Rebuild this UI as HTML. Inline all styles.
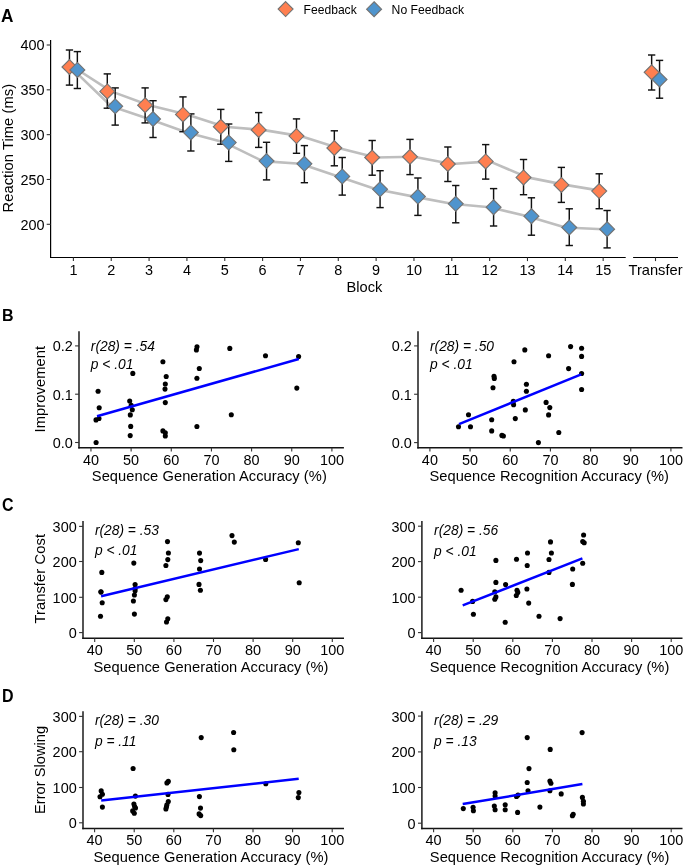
<!DOCTYPE html>
<html><head><meta charset="utf-8"><title>Figure</title>
<style>
html,body{margin:0;padding:0;background:#fff;}
svg{display:block;}
svg text{font-family:"Liberation Sans", Arial, sans-serif;fill:#000;}
</style></head>
<body>
<svg width="685" height="867" viewBox="0 0 685 867">
<rect width="685" height="867" fill="#fff"/>
<polygon points="285.6,1.65 293.05,9.1 285.6,16.55 278.15,9.1" fill="#FF7F50" stroke="#737373" stroke-width="1.15"/>
<text x="303.6" y="13.6" font-size="12.1" text-anchor="start">Feedback</text>
<polygon points="374.1,1.75 381.55,9.2 374.1,16.65 366.65,9.2" fill="#4F94CD" stroke="#737373" stroke-width="1.15"/>
<text x="391.6" y="13.6" font-size="12.2" text-anchor="start">No Feedback</text>
<text transform="translate(1.0 21.7) scale(1 1.05)" font-size="17.2" font-weight="bold">A</text>
<line x1="50.6" y1="40.1" x2="50.6" y2="258.1" stroke="#000" stroke-width="1.2"/>
<line x1="50" y1="257.5" x2="625.7" y2="257.5" stroke="#000" stroke-width="1.2"/>
<line x1="633.1" y1="257.5" x2="678" y2="257.5" stroke="#000" stroke-width="1.2"/>
<line x1="46.7" y1="224.3" x2="50.6" y2="224.3" stroke="#333" stroke-width="1.1"/>
<text transform="translate(44.5 229.7) scale(0.985 1.02)" font-size="14.67" text-anchor="end">200</text>
<line x1="46.7" y1="179.47" x2="50.6" y2="179.47" stroke="#333" stroke-width="1.1"/>
<text transform="translate(44.5 184.88) scale(0.985 1.02)" font-size="14.67" text-anchor="end">250</text>
<line x1="46.7" y1="134.65" x2="50.6" y2="134.65" stroke="#333" stroke-width="1.1"/>
<text transform="translate(44.5 140.05) scale(0.985 1.02)" font-size="14.67" text-anchor="end">300</text>
<line x1="46.7" y1="89.82" x2="50.6" y2="89.82" stroke="#333" stroke-width="1.1"/>
<text transform="translate(44.5 95.22) scale(0.985 1.02)" font-size="14.67" text-anchor="end">350</text>
<line x1="46.7" y1="45" x2="50.6" y2="45" stroke="#333" stroke-width="1.1"/>
<text transform="translate(44.5 50.4) scale(0.985 1.02)" font-size="14.67" text-anchor="end">400</text>
<line x1="73.4" y1="257.5" x2="73.4" y2="261.1" stroke="#333" stroke-width="1.1"/>
<text transform="translate(73.4 275.2) scale(0.985 1.02)" font-size="14.67" text-anchor="middle">1</text>
<line x1="111.24" y1="257.5" x2="111.24" y2="261.1" stroke="#333" stroke-width="1.1"/>
<text transform="translate(111.24 275.2) scale(0.985 1.02)" font-size="14.67" text-anchor="middle">2</text>
<line x1="149.08" y1="257.5" x2="149.08" y2="261.1" stroke="#333" stroke-width="1.1"/>
<text transform="translate(149.08 275.2) scale(0.985 1.02)" font-size="14.67" text-anchor="middle">3</text>
<line x1="186.92" y1="257.5" x2="186.92" y2="261.1" stroke="#333" stroke-width="1.1"/>
<text transform="translate(186.92 275.2) scale(0.985 1.02)" font-size="14.67" text-anchor="middle">4</text>
<line x1="224.76" y1="257.5" x2="224.76" y2="261.1" stroke="#333" stroke-width="1.1"/>
<text transform="translate(224.76 275.2) scale(0.985 1.02)" font-size="14.67" text-anchor="middle">5</text>
<line x1="262.6" y1="257.5" x2="262.6" y2="261.1" stroke="#333" stroke-width="1.1"/>
<text transform="translate(262.6 275.2) scale(0.985 1.02)" font-size="14.67" text-anchor="middle">6</text>
<line x1="300.44" y1="257.5" x2="300.44" y2="261.1" stroke="#333" stroke-width="1.1"/>
<text transform="translate(300.44 275.2) scale(0.985 1.02)" font-size="14.67" text-anchor="middle">7</text>
<line x1="338.28" y1="257.5" x2="338.28" y2="261.1" stroke="#333" stroke-width="1.1"/>
<text transform="translate(338.28 275.2) scale(0.985 1.02)" font-size="14.67" text-anchor="middle">8</text>
<line x1="376.12" y1="257.5" x2="376.12" y2="261.1" stroke="#333" stroke-width="1.1"/>
<text transform="translate(376.12 275.2) scale(0.985 1.02)" font-size="14.67" text-anchor="middle">9</text>
<line x1="413.96" y1="257.5" x2="413.96" y2="261.1" stroke="#333" stroke-width="1.1"/>
<text transform="translate(413.96 275.2) scale(0.985 1.02)" font-size="14.67" text-anchor="middle">10</text>
<line x1="451.8" y1="257.5" x2="451.8" y2="261.1" stroke="#333" stroke-width="1.1"/>
<text transform="translate(451.8 275.2) scale(0.985 1.02)" font-size="14.67" text-anchor="middle">11</text>
<line x1="489.64" y1="257.5" x2="489.64" y2="261.1" stroke="#333" stroke-width="1.1"/>
<text transform="translate(489.64 275.2) scale(0.985 1.02)" font-size="14.67" text-anchor="middle">12</text>
<line x1="527.48" y1="257.5" x2="527.48" y2="261.1" stroke="#333" stroke-width="1.1"/>
<text transform="translate(527.48 275.2) scale(0.985 1.02)" font-size="14.67" text-anchor="middle">13</text>
<line x1="565.32" y1="257.5" x2="565.32" y2="261.1" stroke="#333" stroke-width="1.1"/>
<text transform="translate(565.32 275.2) scale(0.985 1.02)" font-size="14.67" text-anchor="middle">14</text>
<line x1="603.16" y1="257.5" x2="603.16" y2="261.1" stroke="#333" stroke-width="1.1"/>
<text transform="translate(603.16 275.2) scale(0.985 1.02)" font-size="14.67" text-anchor="middle">15</text>
<line x1="655.5" y1="257.5" x2="655.5" y2="261.1" stroke="#333" stroke-width="1.1"/>
<text transform="translate(655.5 275.2) scale(1 1.05)" font-size="14.67" text-anchor="middle">Transfer</text>
<text x="364.4" y="292" font-size="14.67" text-anchor="middle">Block</text>
<text x="12.9" y="148.2" font-size="14.67" text-anchor="middle" textLength="128.5" lengthAdjust="spacing" transform="rotate(-90 12.9 148.2)">Reaction Time (ms)</text>
<polyline fill="none" stroke="#BEBEBE" stroke-width="2.6" stroke-linejoin="round" points="73.4,67 111.24,91.4 149.08,105.2 186.92,114.4 224.76,126.7 262.6,129.9 300.44,136.1 338.28,148 376.12,157.5 413.96,156.8 451.8,164 489.64,161.4 527.48,177.4 565.32,184.9 603.16,191.1"/>
<polyline fill="none" stroke="#BEBEBE" stroke-width="2.6" stroke-linejoin="round" points="73.4,69.9 111.24,106.3 149.08,119 186.92,132.5 224.76,142.6 262.6,161.1 300.44,163.8 338.28,176.4 376.12,189.3 413.96,196.6 451.8,203.8 489.64,207.2 527.48,216.2 565.32,227.5 603.16,229.2"/>
<line x1="69.45" y1="50" x2="69.45" y2="85.1" stroke="#111" stroke-width="1.45"/>
<line x1="65.8" y1="50" x2="73.1" y2="50" stroke="#111" stroke-width="1.45"/>
<line x1="65.8" y1="85.1" x2="73.1" y2="85.1" stroke="#111" stroke-width="1.45"/>
<line x1="107.29" y1="73.9" x2="107.29" y2="108.2" stroke="#111" stroke-width="1.45"/>
<line x1="103.64" y1="73.9" x2="110.94" y2="73.9" stroke="#111" stroke-width="1.45"/>
<line x1="103.64" y1="108.2" x2="110.94" y2="108.2" stroke="#111" stroke-width="1.45"/>
<line x1="145.13" y1="87.9" x2="145.13" y2="122.9" stroke="#111" stroke-width="1.45"/>
<line x1="141.48" y1="87.9" x2="148.78" y2="87.9" stroke="#111" stroke-width="1.45"/>
<line x1="141.48" y1="122.9" x2="148.78" y2="122.9" stroke="#111" stroke-width="1.45"/>
<line x1="182.97" y1="96.9" x2="182.97" y2="131.7" stroke="#111" stroke-width="1.45"/>
<line x1="179.32" y1="96.9" x2="186.62" y2="96.9" stroke="#111" stroke-width="1.45"/>
<line x1="179.32" y1="131.7" x2="186.62" y2="131.7" stroke="#111" stroke-width="1.45"/>
<line x1="220.81" y1="109.4" x2="220.81" y2="144.2" stroke="#111" stroke-width="1.45"/>
<line x1="217.16" y1="109.4" x2="224.46" y2="109.4" stroke="#111" stroke-width="1.45"/>
<line x1="217.16" y1="144.2" x2="224.46" y2="144.2" stroke="#111" stroke-width="1.45"/>
<line x1="258.65" y1="112.6" x2="258.65" y2="147.4" stroke="#111" stroke-width="1.45"/>
<line x1="255" y1="112.6" x2="262.3" y2="112.6" stroke="#111" stroke-width="1.45"/>
<line x1="255" y1="147.4" x2="262.3" y2="147.4" stroke="#111" stroke-width="1.45"/>
<line x1="296.49" y1="118.9" x2="296.49" y2="153.3" stroke="#111" stroke-width="1.45"/>
<line x1="292.84" y1="118.9" x2="300.14" y2="118.9" stroke="#111" stroke-width="1.45"/>
<line x1="292.84" y1="153.3" x2="300.14" y2="153.3" stroke="#111" stroke-width="1.45"/>
<line x1="334.33" y1="130.8" x2="334.33" y2="165.8" stroke="#111" stroke-width="1.45"/>
<line x1="330.68" y1="130.8" x2="337.98" y2="130.8" stroke="#111" stroke-width="1.45"/>
<line x1="330.68" y1="165.8" x2="337.98" y2="165.8" stroke="#111" stroke-width="1.45"/>
<line x1="372.17" y1="140.5" x2="372.17" y2="175.2" stroke="#111" stroke-width="1.45"/>
<line x1="368.52" y1="140.5" x2="375.82" y2="140.5" stroke="#111" stroke-width="1.45"/>
<line x1="368.52" y1="175.2" x2="375.82" y2="175.2" stroke="#111" stroke-width="1.45"/>
<line x1="410.01" y1="139.4" x2="410.01" y2="174.6" stroke="#111" stroke-width="1.45"/>
<line x1="406.36" y1="139.4" x2="413.66" y2="139.4" stroke="#111" stroke-width="1.45"/>
<line x1="406.36" y1="174.6" x2="413.66" y2="174.6" stroke="#111" stroke-width="1.45"/>
<line x1="447.85" y1="147" x2="447.85" y2="181.5" stroke="#111" stroke-width="1.45"/>
<line x1="444.2" y1="147" x2="451.5" y2="147" stroke="#111" stroke-width="1.45"/>
<line x1="444.2" y1="181.5" x2="451.5" y2="181.5" stroke="#111" stroke-width="1.45"/>
<line x1="485.69" y1="144.6" x2="485.69" y2="179.1" stroke="#111" stroke-width="1.45"/>
<line x1="482.04" y1="144.6" x2="489.34" y2="144.6" stroke="#111" stroke-width="1.45"/>
<line x1="482.04" y1="179.1" x2="489.34" y2="179.1" stroke="#111" stroke-width="1.45"/>
<line x1="523.53" y1="159.5" x2="523.53" y2="194.7" stroke="#111" stroke-width="1.45"/>
<line x1="519.88" y1="159.5" x2="527.18" y2="159.5" stroke="#111" stroke-width="1.45"/>
<line x1="519.88" y1="194.7" x2="527.18" y2="194.7" stroke="#111" stroke-width="1.45"/>
<line x1="561.37" y1="167.4" x2="561.37" y2="202.4" stroke="#111" stroke-width="1.45"/>
<line x1="557.72" y1="167.4" x2="565.02" y2="167.4" stroke="#111" stroke-width="1.45"/>
<line x1="557.72" y1="202.4" x2="565.02" y2="202.4" stroke="#111" stroke-width="1.45"/>
<line x1="599.21" y1="173.8" x2="599.21" y2="208.7" stroke="#111" stroke-width="1.45"/>
<line x1="595.56" y1="173.8" x2="602.86" y2="173.8" stroke="#111" stroke-width="1.45"/>
<line x1="595.56" y1="208.7" x2="602.86" y2="208.7" stroke="#111" stroke-width="1.45"/>
<line x1="77.35" y1="51.6" x2="77.35" y2="88.5" stroke="#111" stroke-width="1.45"/>
<line x1="73.7" y1="51.6" x2="81" y2="51.6" stroke="#111" stroke-width="1.45"/>
<line x1="73.7" y1="88.5" x2="81" y2="88.5" stroke="#111" stroke-width="1.45"/>
<line x1="115.19" y1="87.9" x2="115.19" y2="125.1" stroke="#111" stroke-width="1.45"/>
<line x1="111.54" y1="87.9" x2="118.84" y2="87.9" stroke="#111" stroke-width="1.45"/>
<line x1="111.54" y1="125.1" x2="118.84" y2="125.1" stroke="#111" stroke-width="1.45"/>
<line x1="153.03" y1="100.7" x2="153.03" y2="137.5" stroke="#111" stroke-width="1.45"/>
<line x1="149.38" y1="100.7" x2="156.68" y2="100.7" stroke="#111" stroke-width="1.45"/>
<line x1="149.38" y1="137.5" x2="156.68" y2="137.5" stroke="#111" stroke-width="1.45"/>
<line x1="190.87" y1="113.9" x2="190.87" y2="151" stroke="#111" stroke-width="1.45"/>
<line x1="187.22" y1="113.9" x2="194.52" y2="113.9" stroke="#111" stroke-width="1.45"/>
<line x1="187.22" y1="151" x2="194.52" y2="151" stroke="#111" stroke-width="1.45"/>
<line x1="228.71" y1="124" x2="228.71" y2="161.4" stroke="#111" stroke-width="1.45"/>
<line x1="225.06" y1="124" x2="232.36" y2="124" stroke="#111" stroke-width="1.45"/>
<line x1="225.06" y1="161.4" x2="232.36" y2="161.4" stroke="#111" stroke-width="1.45"/>
<line x1="266.55" y1="142.3" x2="266.55" y2="179.9" stroke="#111" stroke-width="1.45"/>
<line x1="262.9" y1="142.3" x2="270.2" y2="142.3" stroke="#111" stroke-width="1.45"/>
<line x1="262.9" y1="179.9" x2="270.2" y2="179.9" stroke="#111" stroke-width="1.45"/>
<line x1="304.39" y1="145.6" x2="304.39" y2="182.7" stroke="#111" stroke-width="1.45"/>
<line x1="300.74" y1="145.6" x2="308.04" y2="145.6" stroke="#111" stroke-width="1.45"/>
<line x1="300.74" y1="182.7" x2="308.04" y2="182.7" stroke="#111" stroke-width="1.45"/>
<line x1="342.23" y1="157.5" x2="342.23" y2="195.1" stroke="#111" stroke-width="1.45"/>
<line x1="338.58" y1="157.5" x2="345.88" y2="157.5" stroke="#111" stroke-width="1.45"/>
<line x1="338.58" y1="195.1" x2="345.88" y2="195.1" stroke="#111" stroke-width="1.45"/>
<line x1="380.07" y1="170.7" x2="380.07" y2="207.6" stroke="#111" stroke-width="1.45"/>
<line x1="376.42" y1="170.7" x2="383.72" y2="170.7" stroke="#111" stroke-width="1.45"/>
<line x1="376.42" y1="207.6" x2="383.72" y2="207.6" stroke="#111" stroke-width="1.45"/>
<line x1="417.91" y1="178" x2="417.91" y2="215.4" stroke="#111" stroke-width="1.45"/>
<line x1="414.26" y1="178" x2="421.56" y2="178" stroke="#111" stroke-width="1.45"/>
<line x1="414.26" y1="215.4" x2="421.56" y2="215.4" stroke="#111" stroke-width="1.45"/>
<line x1="455.75" y1="185.5" x2="455.75" y2="222.8" stroke="#111" stroke-width="1.45"/>
<line x1="452.1" y1="185.5" x2="459.4" y2="185.5" stroke="#111" stroke-width="1.45"/>
<line x1="452.1" y1="222.8" x2="459.4" y2="222.8" stroke="#111" stroke-width="1.45"/>
<line x1="493.59" y1="188.6" x2="493.59" y2="226" stroke="#111" stroke-width="1.45"/>
<line x1="489.94" y1="188.6" x2="497.24" y2="188.6" stroke="#111" stroke-width="1.45"/>
<line x1="489.94" y1="226" x2="497.24" y2="226" stroke="#111" stroke-width="1.45"/>
<line x1="531.43" y1="197.8" x2="531.43" y2="235.2" stroke="#111" stroke-width="1.45"/>
<line x1="527.78" y1="197.8" x2="535.08" y2="197.8" stroke="#111" stroke-width="1.45"/>
<line x1="527.78" y1="235.2" x2="535.08" y2="235.2" stroke="#111" stroke-width="1.45"/>
<line x1="569.27" y1="208.8" x2="569.27" y2="245.5" stroke="#111" stroke-width="1.45"/>
<line x1="565.62" y1="208.8" x2="572.92" y2="208.8" stroke="#111" stroke-width="1.45"/>
<line x1="565.62" y1="245.5" x2="572.92" y2="245.5" stroke="#111" stroke-width="1.45"/>
<line x1="607.11" y1="210.5" x2="607.11" y2="247.9" stroke="#111" stroke-width="1.45"/>
<line x1="603.46" y1="210.5" x2="610.76" y2="210.5" stroke="#111" stroke-width="1.45"/>
<line x1="603.46" y1="247.9" x2="610.76" y2="247.9" stroke="#111" stroke-width="1.45"/>
<line x1="651.65" y1="55" x2="651.65" y2="90" stroke="#111" stroke-width="1.45"/>
<line x1="648" y1="55" x2="655.3" y2="55" stroke="#111" stroke-width="1.45"/>
<line x1="648" y1="90" x2="655.3" y2="90" stroke="#111" stroke-width="1.45"/>
<line x1="659.55" y1="60.4" x2="659.55" y2="98.2" stroke="#111" stroke-width="1.45"/>
<line x1="655.9" y1="60.4" x2="663.2" y2="60.4" stroke="#111" stroke-width="1.45"/>
<line x1="655.9" y1="98.2" x2="663.2" y2="98.2" stroke="#111" stroke-width="1.45"/>
<polygon points="69.45,59.55 76.9,67 69.45,74.45 62,67" fill="#FF7F50" stroke="#737373" stroke-width="1.15"/>
<polygon points="107.29,83.95 114.74,91.4 107.29,98.85 99.84,91.4" fill="#FF7F50" stroke="#737373" stroke-width="1.15"/>
<polygon points="145.13,97.75 152.58,105.2 145.13,112.65 137.68,105.2" fill="#FF7F50" stroke="#737373" stroke-width="1.15"/>
<polygon points="182.97,106.95 190.42,114.4 182.97,121.85 175.52,114.4" fill="#FF7F50" stroke="#737373" stroke-width="1.15"/>
<polygon points="220.81,119.25 228.26,126.7 220.81,134.15 213.36,126.7" fill="#FF7F50" stroke="#737373" stroke-width="1.15"/>
<polygon points="258.65,122.45 266.1,129.9 258.65,137.35 251.2,129.9" fill="#FF7F50" stroke="#737373" stroke-width="1.15"/>
<polygon points="296.49,128.65 303.94,136.1 296.49,143.55 289.04,136.1" fill="#FF7F50" stroke="#737373" stroke-width="1.15"/>
<polygon points="334.33,140.55 341.78,148 334.33,155.45 326.88,148" fill="#FF7F50" stroke="#737373" stroke-width="1.15"/>
<polygon points="372.17,150.05 379.62,157.5 372.17,164.95 364.72,157.5" fill="#FF7F50" stroke="#737373" stroke-width="1.15"/>
<polygon points="410.01,149.35 417.46,156.8 410.01,164.25 402.56,156.8" fill="#FF7F50" stroke="#737373" stroke-width="1.15"/>
<polygon points="447.85,156.55 455.3,164 447.85,171.45 440.4,164" fill="#FF7F50" stroke="#737373" stroke-width="1.15"/>
<polygon points="485.69,153.95 493.14,161.4 485.69,168.85 478.24,161.4" fill="#FF7F50" stroke="#737373" stroke-width="1.15"/>
<polygon points="523.53,169.95 530.98,177.4 523.53,184.85 516.08,177.4" fill="#FF7F50" stroke="#737373" stroke-width="1.15"/>
<polygon points="561.37,177.45 568.82,184.9 561.37,192.35 553.92,184.9" fill="#FF7F50" stroke="#737373" stroke-width="1.15"/>
<polygon points="599.21,183.65 606.66,191.1 599.21,198.55 591.76,191.1" fill="#FF7F50" stroke="#737373" stroke-width="1.15"/>
<polygon points="77.35,62.45 84.8,69.9 77.35,77.35 69.9,69.9" fill="#4F94CD" stroke="#737373" stroke-width="1.15"/>
<polygon points="115.19,98.85 122.64,106.3 115.19,113.75 107.74,106.3" fill="#4F94CD" stroke="#737373" stroke-width="1.15"/>
<polygon points="153.03,111.55 160.48,119 153.03,126.45 145.58,119" fill="#4F94CD" stroke="#737373" stroke-width="1.15"/>
<polygon points="190.87,125.05 198.32,132.5 190.87,139.95 183.42,132.5" fill="#4F94CD" stroke="#737373" stroke-width="1.15"/>
<polygon points="228.71,135.15 236.16,142.6 228.71,150.05 221.26,142.6" fill="#4F94CD" stroke="#737373" stroke-width="1.15"/>
<polygon points="266.55,153.65 274,161.1 266.55,168.55 259.1,161.1" fill="#4F94CD" stroke="#737373" stroke-width="1.15"/>
<polygon points="304.39,156.35 311.84,163.8 304.39,171.25 296.94,163.8" fill="#4F94CD" stroke="#737373" stroke-width="1.15"/>
<polygon points="342.23,168.95 349.68,176.4 342.23,183.85 334.78,176.4" fill="#4F94CD" stroke="#737373" stroke-width="1.15"/>
<polygon points="380.07,181.85 387.52,189.3 380.07,196.75 372.62,189.3" fill="#4F94CD" stroke="#737373" stroke-width="1.15"/>
<polygon points="417.91,189.15 425.36,196.6 417.91,204.05 410.46,196.6" fill="#4F94CD" stroke="#737373" stroke-width="1.15"/>
<polygon points="455.75,196.35 463.2,203.8 455.75,211.25 448.3,203.8" fill="#4F94CD" stroke="#737373" stroke-width="1.15"/>
<polygon points="493.59,199.75 501.04,207.2 493.59,214.65 486.14,207.2" fill="#4F94CD" stroke="#737373" stroke-width="1.15"/>
<polygon points="531.43,208.75 538.88,216.2 531.43,223.65 523.98,216.2" fill="#4F94CD" stroke="#737373" stroke-width="1.15"/>
<polygon points="569.27,220.05 576.72,227.5 569.27,234.95 561.82,227.5" fill="#4F94CD" stroke="#737373" stroke-width="1.15"/>
<polygon points="607.11,221.75 614.56,229.2 607.11,236.65 599.66,229.2" fill="#4F94CD" stroke="#737373" stroke-width="1.15"/>
<polygon points="651.65,64.85 659.1,72.3 651.65,79.75 644.2,72.3" fill="#FF7F50" stroke="#737373" stroke-width="1.15"/>
<polygon points="659.55,72.05 667,79.5 659.55,86.95 652.1,79.5" fill="#4F94CD" stroke="#737373" stroke-width="1.15"/>
<text transform="translate(2.0 320.6) scale(1 1.0)" font-size="16" font-weight="bold">B</text>
<line x1="79" y1="331.3" x2="79" y2="448.53" stroke="#141414" stroke-width="1.45"/>
<line x1="78.28" y1="447.8" x2="343.9" y2="447.8" stroke="#141414" stroke-width="1.45"/>
<line x1="75.1" y1="442.5" x2="79" y2="442.5" stroke="#333" stroke-width="1.1"/>
<text transform="translate(72.7 447.9) scale(0.985 1.02)" font-size="14.67" text-anchor="end">0.0</text>
<line x1="75.1" y1="394.2" x2="79" y2="394.2" stroke="#333" stroke-width="1.1"/>
<text transform="translate(72.7 399.6) scale(0.985 1.02)" font-size="14.67" text-anchor="end">0.1</text>
<line x1="75.1" y1="345.9" x2="79" y2="345.9" stroke="#333" stroke-width="1.1"/>
<text transform="translate(72.7 351.3) scale(0.985 1.02)" font-size="14.67" text-anchor="end">0.2</text>
<line x1="90.95" y1="447.8" x2="90.95" y2="451.5" stroke="#333" stroke-width="1.1"/>
<text transform="translate(90.95 464.6) scale(0.985 1.02)" font-size="14.67" text-anchor="middle">40</text>
<line x1="131.11" y1="447.8" x2="131.11" y2="451.5" stroke="#333" stroke-width="1.1"/>
<text transform="translate(131.11 464.6) scale(0.985 1.02)" font-size="14.67" text-anchor="middle">50</text>
<line x1="171.27" y1="447.8" x2="171.27" y2="451.5" stroke="#333" stroke-width="1.1"/>
<text transform="translate(171.27 464.6) scale(0.985 1.02)" font-size="14.67" text-anchor="middle">60</text>
<line x1="211.43" y1="447.8" x2="211.43" y2="451.5" stroke="#333" stroke-width="1.1"/>
<text transform="translate(211.43 464.6) scale(0.985 1.02)" font-size="14.67" text-anchor="middle">70</text>
<line x1="251.59" y1="447.8" x2="251.59" y2="451.5" stroke="#333" stroke-width="1.1"/>
<text transform="translate(251.59 464.6) scale(0.985 1.02)" font-size="14.67" text-anchor="middle">80</text>
<line x1="291.75" y1="447.8" x2="291.75" y2="451.5" stroke="#333" stroke-width="1.1"/>
<text transform="translate(291.75 464.6) scale(0.985 1.02)" font-size="14.67" text-anchor="middle">90</text>
<line x1="331.91" y1="447.8" x2="331.91" y2="451.5" stroke="#333" stroke-width="1.1"/>
<text transform="translate(331.91 464.6) scale(0.985 1.02)" font-size="14.67" text-anchor="middle">100</text>
<text x="91.8" y="481.3" font-size="14.67" text-anchor="start" textLength="235" lengthAdjust="spacing">Sequence Generation Accuracy (%)</text>
<text x="45.2" y="389.1" font-size="14.67" text-anchor="middle" textLength="86.6" lengthAdjust="spacing" transform="rotate(-90 45.2 389.1)">Improvement</text>
<text x="90.8" y="350.8" font-size="13.8" text-anchor="start" font-style="italic">r(28) = .54</text>
<text x="90.8" y="368.9" font-size="13.8" text-anchor="start" font-style="italic">p &lt; .01</text>
<circle cx="96.1" cy="442.5" r="2.55"/>
<circle cx="96" cy="419.9" r="2.55"/>
<circle cx="99" cy="418.5" r="2.55"/>
<circle cx="99.2" cy="407.8" r="2.55"/>
<circle cx="98.1" cy="391.2" r="2.55"/>
<circle cx="129.7" cy="401" r="2.55"/>
<circle cx="131.2" cy="405.3" r="2.55"/>
<circle cx="132.3" cy="409.8" r="2.55"/>
<circle cx="130.3" cy="414.9" r="2.55"/>
<circle cx="130.7" cy="426.4" r="2.55"/>
<circle cx="130.2" cy="435.6" r="2.55"/>
<circle cx="132.8" cy="373.4" r="2.55"/>
<circle cx="162.9" cy="361.7" r="2.55"/>
<circle cx="166.2" cy="376.5" r="2.55"/>
<circle cx="165.3" cy="384" r="2.55"/>
<circle cx="165" cy="389.1" r="2.55"/>
<circle cx="165.3" cy="402.6" r="2.55"/>
<circle cx="162.9" cy="430.9" r="2.55"/>
<circle cx="165.3" cy="432.7" r="2.55"/>
<circle cx="165.3" cy="436" r="2.55"/>
<circle cx="197" cy="346.7" r="2.55"/>
<circle cx="196.4" cy="349.9" r="2.55"/>
<circle cx="199.3" cy="368.5" r="2.55"/>
<circle cx="196.9" cy="378.2" r="2.55"/>
<circle cx="196.9" cy="426.5" r="2.55"/>
<circle cx="229.8" cy="348.4" r="2.55"/>
<circle cx="231.3" cy="414.8" r="2.55"/>
<circle cx="265.5" cy="355.7" r="2.55"/>
<circle cx="298.6" cy="356.5" r="2.55"/>
<circle cx="296.8" cy="388.1" r="2.55"/>
<line x1="97" y1="416.3" x2="298.8" y2="359" stroke="#0000FF" stroke-width="2.5" stroke-linecap="butt"/>
<line x1="418" y1="331.2" x2="418" y2="448.43" stroke="#141414" stroke-width="1.45"/>
<line x1="417.27" y1="447.7" x2="682.5" y2="447.7" stroke="#141414" stroke-width="1.45"/>
<line x1="414.1" y1="442.6" x2="418" y2="442.6" stroke="#333" stroke-width="1.1"/>
<text transform="translate(411.7 448) scale(0.985 1.02)" font-size="14.67" text-anchor="end">0.0</text>
<line x1="414.1" y1="394.25" x2="418" y2="394.25" stroke="#333" stroke-width="1.1"/>
<text transform="translate(411.7 399.65) scale(0.985 1.02)" font-size="14.67" text-anchor="end">0.1</text>
<line x1="414.1" y1="345.9" x2="418" y2="345.9" stroke="#333" stroke-width="1.1"/>
<text transform="translate(411.7 351.3) scale(0.985 1.02)" font-size="14.67" text-anchor="end">0.2</text>
<line x1="429.9" y1="447.7" x2="429.9" y2="451.4" stroke="#333" stroke-width="1.1"/>
<text transform="translate(429.9 464.5) scale(0.985 1.02)" font-size="14.67" text-anchor="middle">40</text>
<line x1="470.07" y1="447.7" x2="470.07" y2="451.4" stroke="#333" stroke-width="1.1"/>
<text transform="translate(470.07 464.5) scale(0.985 1.02)" font-size="14.67" text-anchor="middle">50</text>
<line x1="510.24" y1="447.7" x2="510.24" y2="451.4" stroke="#333" stroke-width="1.1"/>
<text transform="translate(510.24 464.5) scale(0.985 1.02)" font-size="14.67" text-anchor="middle">60</text>
<line x1="550.41" y1="447.7" x2="550.41" y2="451.4" stroke="#333" stroke-width="1.1"/>
<text transform="translate(550.41 464.5) scale(0.985 1.02)" font-size="14.67" text-anchor="middle">70</text>
<line x1="590.58" y1="447.7" x2="590.58" y2="451.4" stroke="#333" stroke-width="1.1"/>
<text transform="translate(590.58 464.5) scale(0.985 1.02)" font-size="14.67" text-anchor="middle">80</text>
<line x1="630.75" y1="447.7" x2="630.75" y2="451.4" stroke="#333" stroke-width="1.1"/>
<text transform="translate(630.75 464.5) scale(0.985 1.02)" font-size="14.67" text-anchor="middle">90</text>
<line x1="670.92" y1="447.7" x2="670.92" y2="451.4" stroke="#333" stroke-width="1.1"/>
<text transform="translate(670.92 464.5) scale(0.985 1.02)" font-size="14.67" text-anchor="middle">100</text>
<text x="429.4" y="481.2" font-size="14.67" text-anchor="start" textLength="239.5" lengthAdjust="spacing">Sequence Recognition Accuracy (%)</text>
<text x="430" y="351.2" font-size="13.8" text-anchor="start" font-style="italic">r(28) = .50</text>
<text x="430" y="369.2" font-size="13.8" text-anchor="start" font-style="italic">p &lt; .01</text>
<circle cx="458.5" cy="426.7" r="2.55"/>
<circle cx="468.5" cy="414.7" r="2.55"/>
<circle cx="470.5" cy="426.7" r="2.55"/>
<circle cx="491.7" cy="419.7" r="2.55"/>
<circle cx="491.7" cy="430.9" r="2.55"/>
<circle cx="493" cy="387.8" r="2.55"/>
<circle cx="494" cy="376.2" r="2.55"/>
<circle cx="494.3" cy="378.4" r="2.55"/>
<circle cx="501.9" cy="435.4" r="2.55"/>
<circle cx="503.4" cy="436" r="2.55"/>
<circle cx="514" cy="361.7" r="2.55"/>
<circle cx="513.3" cy="401.4" r="2.55"/>
<circle cx="513.6" cy="404.8" r="2.55"/>
<circle cx="515.3" cy="418.6" r="2.55"/>
<circle cx="524.8" cy="349.9" r="2.55"/>
<circle cx="526.4" cy="384.2" r="2.55"/>
<circle cx="526.4" cy="391.2" r="2.55"/>
<circle cx="525.3" cy="409.9" r="2.55"/>
<circle cx="538.4" cy="442.6" r="2.55"/>
<circle cx="548.6" cy="355.7" r="2.55"/>
<circle cx="546.1" cy="402.4" r="2.55"/>
<circle cx="549.8" cy="407.6" r="2.55"/>
<circle cx="548.6" cy="414.9" r="2.55"/>
<circle cx="558.8" cy="432.5" r="2.55"/>
<circle cx="570.6" cy="346.6" r="2.55"/>
<circle cx="568.6" cy="368.6" r="2.55"/>
<circle cx="581.6" cy="348.3" r="2.55"/>
<circle cx="581.6" cy="356.4" r="2.55"/>
<circle cx="581.6" cy="373.5" r="2.55"/>
<circle cx="581.6" cy="389.5" r="2.55"/>
<line x1="459" y1="424.2" x2="581.2" y2="374.3" stroke="#0000FF" stroke-width="2.5" stroke-linecap="butt"/>
<text transform="translate(2.0 510.6) scale(1 1.11)" font-size="16" font-weight="bold">C</text>
<line x1="83" y1="521.1" x2="83" y2="639.02" stroke="#141414" stroke-width="1.45"/>
<line x1="82.28" y1="638.3" x2="344" y2="638.3" stroke="#141414" stroke-width="1.45"/>
<line x1="79.1" y1="632.6" x2="83" y2="632.6" stroke="#333" stroke-width="1.1"/>
<text transform="translate(76.7 638) scale(0.985 1.02)" font-size="14.67" text-anchor="end">0</text>
<line x1="79.1" y1="597.3" x2="83" y2="597.3" stroke="#333" stroke-width="1.1"/>
<text transform="translate(76.7 602.7) scale(0.985 1.02)" font-size="14.67" text-anchor="end">100</text>
<line x1="79.1" y1="561.5" x2="83" y2="561.5" stroke="#333" stroke-width="1.1"/>
<text transform="translate(76.7 566.9) scale(0.985 1.02)" font-size="14.67" text-anchor="end">200</text>
<line x1="79.1" y1="526.4" x2="83" y2="526.4" stroke="#333" stroke-width="1.1"/>
<text transform="translate(76.7 531.8) scale(0.985 1.02)" font-size="14.67" text-anchor="end">300</text>
<line x1="94.7" y1="638.3" x2="94.7" y2="642" stroke="#333" stroke-width="1.1"/>
<text transform="translate(94.7 655.1) scale(0.985 1.02)" font-size="14.67" text-anchor="middle">40</text>
<line x1="134.3" y1="638.3" x2="134.3" y2="642" stroke="#333" stroke-width="1.1"/>
<text transform="translate(134.3 655.1) scale(0.985 1.02)" font-size="14.67" text-anchor="middle">50</text>
<line x1="173.9" y1="638.3" x2="173.9" y2="642" stroke="#333" stroke-width="1.1"/>
<text transform="translate(173.9 655.1) scale(0.985 1.02)" font-size="14.67" text-anchor="middle">60</text>
<line x1="213.5" y1="638.3" x2="213.5" y2="642" stroke="#333" stroke-width="1.1"/>
<text transform="translate(213.5 655.1) scale(0.985 1.02)" font-size="14.67" text-anchor="middle">70</text>
<line x1="253.1" y1="638.3" x2="253.1" y2="642" stroke="#333" stroke-width="1.1"/>
<text transform="translate(253.1 655.1) scale(0.985 1.02)" font-size="14.67" text-anchor="middle">80</text>
<line x1="292.7" y1="638.3" x2="292.7" y2="642" stroke="#333" stroke-width="1.1"/>
<text transform="translate(292.7 655.1) scale(0.985 1.02)" font-size="14.67" text-anchor="middle">90</text>
<line x1="332.3" y1="638.3" x2="332.3" y2="642" stroke="#333" stroke-width="1.1"/>
<text transform="translate(332.3 655.1) scale(0.985 1.02)" font-size="14.67" text-anchor="middle">100</text>
<text x="93.5" y="671.8" font-size="14.67" text-anchor="start" textLength="235" lengthAdjust="spacing">Sequence Generation Accuracy (%)</text>
<text x="45.2" y="578.8" font-size="14.67" text-anchor="middle" textLength="89.6" lengthAdjust="spacing" transform="rotate(-90 45.2 578.8)">Transfer Cost</text>
<text x="94.9" y="535.1" font-size="13.8" text-anchor="start" font-style="italic">r(28) = .53</text>
<text x="94.9" y="555.3" font-size="13.8" text-anchor="start" font-style="italic">p &lt; .01</text>
<circle cx="101.8" cy="572.4" r="2.55"/>
<circle cx="100.9" cy="591.8" r="2.55"/>
<circle cx="101" cy="592.1" r="2.55"/>
<circle cx="102.2" cy="602.7" r="2.55"/>
<circle cx="100.5" cy="616.3" r="2.55"/>
<circle cx="133.8" cy="563.1" r="2.55"/>
<circle cx="135.1" cy="584.5" r="2.55"/>
<circle cx="135.1" cy="588.5" r="2.55"/>
<circle cx="135.1" cy="590.7" r="2.55"/>
<circle cx="134.4" cy="595" r="2.55"/>
<circle cx="133.4" cy="601" r="2.55"/>
<circle cx="134.4" cy="614.1" r="2.55"/>
<circle cx="167.5" cy="541.6" r="2.55"/>
<circle cx="168.4" cy="553" r="2.55"/>
<circle cx="167.8" cy="559.6" r="2.55"/>
<circle cx="165.9" cy="565.5" r="2.55"/>
<circle cx="167.3" cy="596.7" r="2.55"/>
<circle cx="165.9" cy="599.6" r="2.55"/>
<circle cx="167.8" cy="618.7" r="2.55"/>
<circle cx="166.5" cy="622" r="2.55"/>
<circle cx="199.5" cy="553.1" r="2.55"/>
<circle cx="200.7" cy="560.6" r="2.55"/>
<circle cx="199.5" cy="569" r="2.55"/>
<circle cx="199" cy="584.4" r="2.55"/>
<circle cx="200.4" cy="590.2" r="2.55"/>
<circle cx="232" cy="535.6" r="2.55"/>
<circle cx="234.3" cy="542.1" r="2.55"/>
<circle cx="265.6" cy="559.4" r="2.55"/>
<circle cx="298.3" cy="542.8" r="2.55"/>
<circle cx="299.2" cy="582.7" r="2.55"/>
<line x1="101.1" y1="596.3" x2="298.8" y2="549.1" stroke="#0000FF" stroke-width="2.5" stroke-linecap="butt"/>
<line x1="421.9" y1="521.1" x2="421.9" y2="639.02" stroke="#141414" stroke-width="1.45"/>
<line x1="421.17" y1="638.3" x2="682.5" y2="638.3" stroke="#141414" stroke-width="1.45"/>
<line x1="418" y1="632.6" x2="421.9" y2="632.6" stroke="#333" stroke-width="1.1"/>
<text transform="translate(415.6 638) scale(0.985 1.02)" font-size="14.67" text-anchor="end">0</text>
<line x1="418" y1="597.2" x2="421.9" y2="597.2" stroke="#333" stroke-width="1.1"/>
<text transform="translate(415.6 602.6) scale(0.985 1.02)" font-size="14.67" text-anchor="end">100</text>
<line x1="418" y1="561.6" x2="421.9" y2="561.6" stroke="#333" stroke-width="1.1"/>
<text transform="translate(415.6 567) scale(0.985 1.02)" font-size="14.67" text-anchor="end">200</text>
<line x1="418" y1="526.2" x2="421.9" y2="526.2" stroke="#333" stroke-width="1.1"/>
<text transform="translate(415.6 531.6) scale(0.985 1.02)" font-size="14.67" text-anchor="end">300</text>
<line x1="433.6" y1="638.3" x2="433.6" y2="642" stroke="#333" stroke-width="1.1"/>
<text transform="translate(433.6 655.1) scale(0.985 1.02)" font-size="14.67" text-anchor="middle">40</text>
<line x1="473.2" y1="638.3" x2="473.2" y2="642" stroke="#333" stroke-width="1.1"/>
<text transform="translate(473.2 655.1) scale(0.985 1.02)" font-size="14.67" text-anchor="middle">50</text>
<line x1="512.8" y1="638.3" x2="512.8" y2="642" stroke="#333" stroke-width="1.1"/>
<text transform="translate(512.8 655.1) scale(0.985 1.02)" font-size="14.67" text-anchor="middle">60</text>
<line x1="552.4" y1="638.3" x2="552.4" y2="642" stroke="#333" stroke-width="1.1"/>
<text transform="translate(552.4 655.1) scale(0.985 1.02)" font-size="14.67" text-anchor="middle">70</text>
<line x1="592" y1="638.3" x2="592" y2="642" stroke="#333" stroke-width="1.1"/>
<text transform="translate(592 655.1) scale(0.985 1.02)" font-size="14.67" text-anchor="middle">80</text>
<line x1="631.6" y1="638.3" x2="631.6" y2="642" stroke="#333" stroke-width="1.1"/>
<text transform="translate(631.6 655.1) scale(0.985 1.02)" font-size="14.67" text-anchor="middle">90</text>
<line x1="671.2" y1="638.3" x2="671.2" y2="642" stroke="#333" stroke-width="1.1"/>
<text transform="translate(671.2 655.1) scale(0.985 1.02)" font-size="14.67" text-anchor="middle">100</text>
<text x="429.8" y="671.8" font-size="14.67" text-anchor="start" textLength="239.5" lengthAdjust="spacing">Sequence Recognition Accuracy (%)</text>
<text x="434.1" y="534.9" font-size="13.8" text-anchor="start" font-style="italic">r(28) = .56</text>
<text x="434.1" y="555.6" font-size="13.8" text-anchor="start" font-style="italic">p &lt; .01</text>
<circle cx="461.1" cy="590.2" r="2.55"/>
<circle cx="472.6" cy="601.4" r="2.55"/>
<circle cx="473.4" cy="614.2" r="2.55"/>
<circle cx="495.9" cy="560.4" r="2.55"/>
<circle cx="495.9" cy="582.4" r="2.55"/>
<circle cx="494.8" cy="591.8" r="2.55"/>
<circle cx="495.9" cy="596.9" r="2.55"/>
<circle cx="494.8" cy="599.3" r="2.55"/>
<circle cx="505.6" cy="584.5" r="2.55"/>
<circle cx="505.2" cy="622.3" r="2.55"/>
<circle cx="516.5" cy="559.3" r="2.55"/>
<circle cx="517" cy="590.2" r="2.55"/>
<circle cx="517.8" cy="592.4" r="2.55"/>
<circle cx="516.3" cy="595.5" r="2.55"/>
<circle cx="527.5" cy="553" r="2.55"/>
<circle cx="527.2" cy="565.5" r="2.55"/>
<circle cx="526.9" cy="589" r="2.55"/>
<circle cx="528.7" cy="603.1" r="2.55"/>
<circle cx="539" cy="616.3" r="2.55"/>
<circle cx="550.5" cy="541.9" r="2.55"/>
<circle cx="551.4" cy="553" r="2.55"/>
<circle cx="549" cy="559.5" r="2.55"/>
<circle cx="549" cy="572.4" r="2.55"/>
<circle cx="560.1" cy="618.6" r="2.55"/>
<circle cx="572.7" cy="569" r="2.55"/>
<circle cx="572.4" cy="584.4" r="2.55"/>
<circle cx="583.6" cy="535" r="2.55"/>
<circle cx="582.7" cy="541.5" r="2.55"/>
<circle cx="584.2" cy="542.7" r="2.55"/>
<circle cx="582.7" cy="563.2" r="2.55"/>
<line x1="462.7" y1="605.4" x2="582.4" y2="558.3" stroke="#0000FF" stroke-width="2.5" stroke-linecap="butt"/>
<text transform="translate(2.0 701.9) scale(1 1.11)" font-size="16" font-weight="bold">D</text>
<line x1="83" y1="711.3" x2="83" y2="829.23" stroke="#141414" stroke-width="1.45"/>
<line x1="82.28" y1="828.5" x2="344" y2="828.5" stroke="#141414" stroke-width="1.45"/>
<line x1="79.1" y1="822.8" x2="83" y2="822.8" stroke="#333" stroke-width="1.1"/>
<text transform="translate(76.7 828.2) scale(0.985 1.02)" font-size="14.67" text-anchor="end">0</text>
<line x1="79.1" y1="787.5" x2="83" y2="787.5" stroke="#333" stroke-width="1.1"/>
<text transform="translate(76.7 792.9) scale(0.985 1.02)" font-size="14.67" text-anchor="end">100</text>
<line x1="79.1" y1="751.7" x2="83" y2="751.7" stroke="#333" stroke-width="1.1"/>
<text transform="translate(76.7 757.1) scale(0.985 1.02)" font-size="14.67" text-anchor="end">200</text>
<line x1="79.1" y1="716.4" x2="83" y2="716.4" stroke="#333" stroke-width="1.1"/>
<text transform="translate(76.7 721.8) scale(0.985 1.02)" font-size="14.67" text-anchor="end">300</text>
<line x1="94.6" y1="828.5" x2="94.6" y2="832.2" stroke="#333" stroke-width="1.1"/>
<text transform="translate(94.6 845.3) scale(0.985 1.02)" font-size="14.67" text-anchor="middle">40</text>
<line x1="134.2" y1="828.5" x2="134.2" y2="832.2" stroke="#333" stroke-width="1.1"/>
<text transform="translate(134.2 845.3) scale(0.985 1.02)" font-size="14.67" text-anchor="middle">50</text>
<line x1="173.8" y1="828.5" x2="173.8" y2="832.2" stroke="#333" stroke-width="1.1"/>
<text transform="translate(173.8 845.3) scale(0.985 1.02)" font-size="14.67" text-anchor="middle">60</text>
<line x1="213.4" y1="828.5" x2="213.4" y2="832.2" stroke="#333" stroke-width="1.1"/>
<text transform="translate(213.4 845.3) scale(0.985 1.02)" font-size="14.67" text-anchor="middle">70</text>
<line x1="253" y1="828.5" x2="253" y2="832.2" stroke="#333" stroke-width="1.1"/>
<text transform="translate(253 845.3) scale(0.985 1.02)" font-size="14.67" text-anchor="middle">80</text>
<line x1="292.6" y1="828.5" x2="292.6" y2="832.2" stroke="#333" stroke-width="1.1"/>
<text transform="translate(292.6 845.3) scale(0.985 1.02)" font-size="14.67" text-anchor="middle">90</text>
<line x1="332.2" y1="828.5" x2="332.2" y2="832.2" stroke="#333" stroke-width="1.1"/>
<text transform="translate(332.2 845.3) scale(0.985 1.02)" font-size="14.67" text-anchor="middle">100</text>
<text x="93.4" y="862" font-size="14.67" text-anchor="start" textLength="235" lengthAdjust="spacing">Sequence Generation Accuracy (%)</text>
<text x="45.2" y="769.9" font-size="14.67" text-anchor="middle" textLength="88.2" lengthAdjust="spacing" transform="rotate(-90 45.2 769.9)">Error Slowing</text>
<text x="94.9" y="725.1" font-size="13.8" text-anchor="start" font-style="italic">r(28) = .30</text>
<text x="94.9" y="745.9" font-size="13.8" text-anchor="start" font-style="italic">p = .11</text>
<circle cx="101.2" cy="790.9" r="2.55"/>
<circle cx="102.4" cy="794.2" r="2.55"/>
<circle cx="100" cy="796.8" r="2.55"/>
<circle cx="102.4" cy="807.1" r="2.55"/>
<circle cx="133.1" cy="768.5" r="2.55"/>
<circle cx="135.4" cy="796.1" r="2.55"/>
<circle cx="133.9" cy="804" r="2.55"/>
<circle cx="135.5" cy="808" r="2.55"/>
<circle cx="132.7" cy="810.9" r="2.55"/>
<circle cx="134.3" cy="813.3" r="2.55"/>
<circle cx="134.6" cy="806.5" r="2.55"/>
<circle cx="168.3" cy="781.4" r="2.55"/>
<circle cx="166.9" cy="782.9" r="2.55"/>
<circle cx="168" cy="794.4" r="2.55"/>
<circle cx="168.3" cy="801.6" r="2.55"/>
<circle cx="166.9" cy="804.7" r="2.55"/>
<circle cx="165.9" cy="808.9" r="2.55"/>
<circle cx="166.5" cy="806.8" r="2.55"/>
<circle cx="201.2" cy="737.6" r="2.55"/>
<circle cx="199.4" cy="796.6" r="2.55"/>
<circle cx="200.5" cy="808.1" r="2.55"/>
<circle cx="199.1" cy="813.9" r="2.55"/>
<circle cx="200.7" cy="815.6" r="2.55"/>
<circle cx="233.6" cy="732.5" r="2.55"/>
<circle cx="233.8" cy="749.7" r="2.55"/>
<circle cx="265.8" cy="783.8" r="2.55"/>
<circle cx="298.9" cy="792.6" r="2.55"/>
<circle cx="298.3" cy="797.6" r="2.55"/>
<line x1="101.2" y1="800.5" x2="298.7" y2="778.8" stroke="#0000FF" stroke-width="2.5" stroke-linecap="butt"/>
<line x1="421.9" y1="711.3" x2="421.9" y2="829.23" stroke="#141414" stroke-width="1.45"/>
<line x1="421.17" y1="828.5" x2="682.5" y2="828.5" stroke="#141414" stroke-width="1.45"/>
<line x1="418" y1="823.2" x2="421.9" y2="823.2" stroke="#333" stroke-width="1.1"/>
<text transform="translate(415.6 828.6) scale(0.985 1.02)" font-size="14.67" text-anchor="end">0</text>
<line x1="418" y1="787.5" x2="421.9" y2="787.5" stroke="#333" stroke-width="1.1"/>
<text transform="translate(415.6 792.9) scale(0.985 1.02)" font-size="14.67" text-anchor="end">100</text>
<line x1="418" y1="751.9" x2="421.9" y2="751.9" stroke="#333" stroke-width="1.1"/>
<text transform="translate(415.6 757.3) scale(0.985 1.02)" font-size="14.67" text-anchor="end">200</text>
<line x1="418" y1="716.1" x2="421.9" y2="716.1" stroke="#333" stroke-width="1.1"/>
<text transform="translate(415.6 721.5) scale(0.985 1.02)" font-size="14.67" text-anchor="end">300</text>
<line x1="433.6" y1="828.5" x2="433.6" y2="832.2" stroke="#333" stroke-width="1.1"/>
<text transform="translate(433.6 845.3) scale(0.985 1.02)" font-size="14.67" text-anchor="middle">40</text>
<line x1="473.2" y1="828.5" x2="473.2" y2="832.2" stroke="#333" stroke-width="1.1"/>
<text transform="translate(473.2 845.3) scale(0.985 1.02)" font-size="14.67" text-anchor="middle">50</text>
<line x1="512.8" y1="828.5" x2="512.8" y2="832.2" stroke="#333" stroke-width="1.1"/>
<text transform="translate(512.8 845.3) scale(0.985 1.02)" font-size="14.67" text-anchor="middle">60</text>
<line x1="552.4" y1="828.5" x2="552.4" y2="832.2" stroke="#333" stroke-width="1.1"/>
<text transform="translate(552.4 845.3) scale(0.985 1.02)" font-size="14.67" text-anchor="middle">70</text>
<line x1="592" y1="828.5" x2="592" y2="832.2" stroke="#333" stroke-width="1.1"/>
<text transform="translate(592 845.3) scale(0.985 1.02)" font-size="14.67" text-anchor="middle">80</text>
<line x1="631.6" y1="828.5" x2="631.6" y2="832.2" stroke="#333" stroke-width="1.1"/>
<text transform="translate(631.6 845.3) scale(0.985 1.02)" font-size="14.67" text-anchor="middle">90</text>
<line x1="671.2" y1="828.5" x2="671.2" y2="832.2" stroke="#333" stroke-width="1.1"/>
<text transform="translate(671.2 845.3) scale(0.985 1.02)" font-size="14.67" text-anchor="middle">100</text>
<text x="429.8" y="862" font-size="14.67" text-anchor="start" textLength="239.5" lengthAdjust="spacing">Sequence Recognition Accuracy (%)</text>
<text x="434.1" y="725.1" font-size="13.8" text-anchor="start" font-style="italic">r(28) = .29</text>
<text x="434.1" y="745.8" font-size="13.8" text-anchor="start" font-style="italic">p = .13</text>
<circle cx="463.3" cy="808.6" r="2.55"/>
<circle cx="473.1" cy="807.3" r="2.55"/>
<circle cx="473.4" cy="810.8" r="2.55"/>
<circle cx="495.1" cy="792.8" r="2.55"/>
<circle cx="495.1" cy="796" r="2.55"/>
<circle cx="494.3" cy="806" r="2.55"/>
<circle cx="495.1" cy="809.7" r="2.55"/>
<circle cx="505.2" cy="804.7" r="2.55"/>
<circle cx="505.2" cy="809.7" r="2.55"/>
<circle cx="516.5" cy="796.4" r="2.55"/>
<circle cx="518" cy="795.1" r="2.55"/>
<circle cx="517.6" cy="812.4" r="2.55"/>
<circle cx="527.2" cy="737.6" r="2.55"/>
<circle cx="529" cy="768.6" r="2.55"/>
<circle cx="527.2" cy="782.5" r="2.55"/>
<circle cx="528" cy="790.8" r="2.55"/>
<circle cx="539.9" cy="807.1" r="2.55"/>
<circle cx="550.2" cy="749.4" r="2.55"/>
<circle cx="549.9" cy="781" r="2.55"/>
<circle cx="550.9" cy="783.3" r="2.55"/>
<circle cx="549.9" cy="790.8" r="2.55"/>
<circle cx="561.2" cy="793.9" r="2.55"/>
<circle cx="572.4" cy="815.8" r="2.55"/>
<circle cx="573.2" cy="814.3" r="2.55"/>
<circle cx="582.1" cy="732.6" r="2.55"/>
<circle cx="582.4" cy="797.4" r="2.55"/>
<circle cx="583.4" cy="801.2" r="2.55"/>
<circle cx="583.4" cy="804" r="2.55"/>
<line x1="462.7" y1="804.1" x2="582.4" y2="784.1" stroke="#0000FF" stroke-width="2.5" stroke-linecap="butt"/>
</svg>
</body></html>
